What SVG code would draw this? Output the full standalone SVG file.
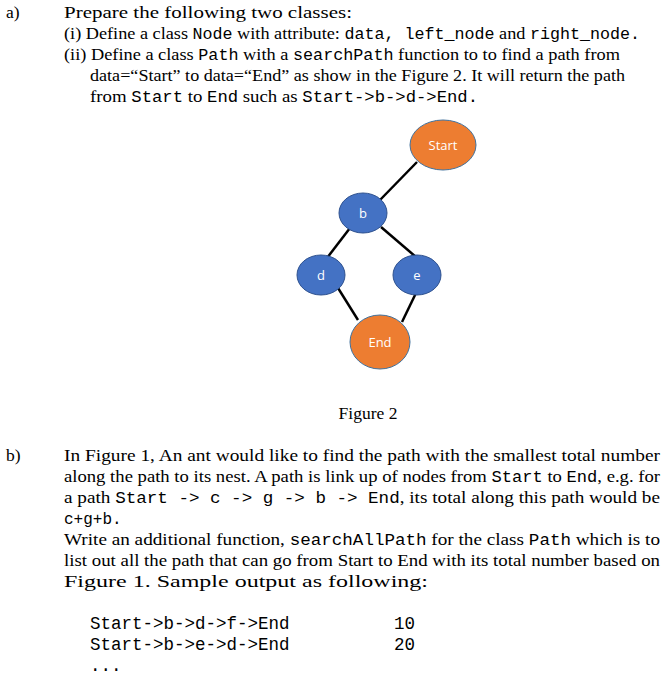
<svg xmlns="http://www.w3.org/2000/svg" width="668" height="678" viewBox="0 0 668 678">
<style>
.t{font-family:"Liberation Serif",serif;font-size:17.5px;fill:#000}
.m{font-family:"Liberation Mono",monospace;font-size:16px}
.s{font-family:"Liberation Mono",monospace;font-size:17.5px;fill:#000}
.o{fill:#ED7D31;stroke:#41719C;stroke-width:1}
.bl{fill:#4472C4;stroke:#2F528F;stroke-width:1}
.nl{font-family:"Open Sans","Liberation Sans",sans-serif;font-size:13px;fill:#fff;text-anchor:middle}
.e{stroke:#000;stroke-width:2.5}
</style>
<rect width="668" height="678" fill="#fff"/>
<text class="t" x="6" y="18">a)</text>
<text class="t" x="64" y="18" textLength="288" lengthAdjust="spacingAndGlyphs">Prepare the following two classes:</text>
<text class="t" x="64" y="39" textLength="576" lengthAdjust="spacingAndGlyphs">(i) Define a class <tspan class="m">Node</tspan> with attribute: <tspan class="m">data, left_node</tspan> and <tspan class="m">right_node.</tspan></text>
<text class="t" x="64" y="60" textLength="556" lengthAdjust="spacingAndGlyphs">(ii) Define a class <tspan class="m">Path</tspan> with a <tspan class="m">searchPath</tspan> function to to find a path from</text>
<text class="t" x="90" y="81" textLength="535" lengthAdjust="spacingAndGlyphs">data=“Start” to data=“End” as show in the Figure 2.  It will return the path</text>
<text class="t" x="90" y="102" textLength="388" lengthAdjust="spacingAndGlyphs">from <tspan class="m">Start</tspan> to <tspan class="m">End</tspan> such as <tspan class="m">Start-&gt;b-&gt;d-&gt;End.</tspan></text>
<g id="connectors">
<line class="e" x1="417" y1="162" x2="380" y2="200"/>
<line class="e" x1="350" y1="228" x2="327" y2="258"/>
<line class="e" x1="381" y1="227" x2="416" y2="257"/>
<line class="e" x1="338" y1="288" x2="358" y2="320"/>
<line class="e" x1="416" y1="293" x2="402" y2="322"/>
</g>
<g id="start"><ellipse class="o" cx="443" cy="145" rx="33" ry="25"/><text class="nl" x="443" y="150">Start</text></g>
<g id="b"><ellipse class="bl" cx="363" cy="213" rx="24" ry="20"/><text class="nl" x="363" y="218">b</text></g>
<g id="d"><ellipse class="bl" cx="321" cy="275" rx="24" ry="20"/><text class="nl" x="321" y="280">d</text></g>
<g id="e"><ellipse class="bl" cx="417" cy="275" rx="24" ry="20"/><text class="nl" x="417" y="280">e</text></g>
<g id="end"><ellipse class="o" cx="380" cy="342" rx="30" ry="27"/><text class="nl" x="380" y="347">End</text></g>
<text class="t" x="368" y="419" text-anchor="middle">Figure 2</text>
<text class="t" x="6" y="461">b)</text>
<text class="t" x="64" y="461" textLength="596" lengthAdjust="spacingAndGlyphs">In Figure 1, An ant would like to find the path with the smallest total number</text>
<text class="t" x="64" y="482" textLength="596" lengthAdjust="spacingAndGlyphs">along the path to its nest.  A path is link up of nodes from <tspan class="m">Start</tspan> to <tspan class="m">End</tspan>, e.g. for</text>
<text class="t" x="64" y="503" textLength="596" lengthAdjust="spacingAndGlyphs">a path <tspan class="m">Start -&gt; c -&gt; g -&gt; b -&gt; End</tspan>, its total along this path would be</text>
<text class="t" x="64" y="524"><tspan class="m">c+g+b.</tspan></text>
<text class="t" x="64" y="545" textLength="596" lengthAdjust="spacingAndGlyphs">Write an additional function, <tspan class="m">searchAllPath</tspan> for the class <tspan class="m">Path</tspan> which is to</text>
<text class="t" x="64" y="566" textLength="596" lengthAdjust="spacingAndGlyphs">list out all the path that can go from Start to End with its total number based on</text>
<text class="t" x="64" y="587" textLength="364" lengthAdjust="spacingAndGlyphs">Figure 1.  Sample output as following:</text>
<text class="s" x="90" y="629">Start-&gt;b-&gt;d-&gt;f-&gt;End</text>
<text class="s" x="394" y="629">10</text>
<text class="s" x="90" y="650">Start-&gt;b-&gt;e-&gt;d-&gt;End</text>
<text class="s" x="394" y="650">20</text>
<text class="s" x="90" y="671">...</text>
</svg>
